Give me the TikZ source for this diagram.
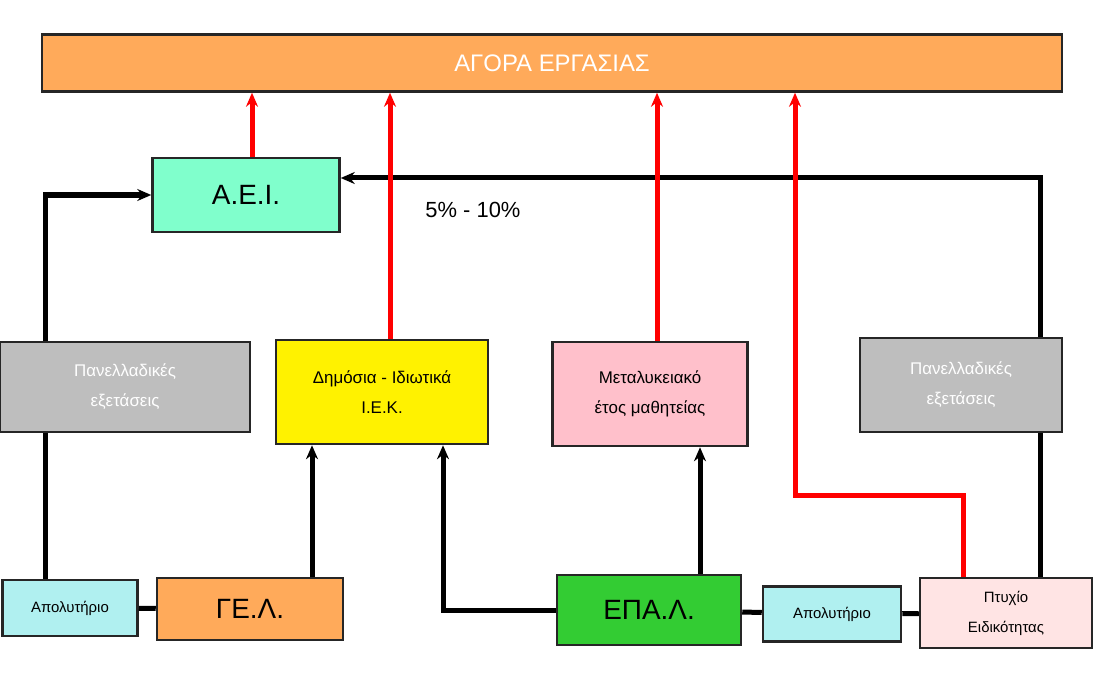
\documentclass[tikz,border=0pt]{standalone}
\usepackage{fontspec}
\setmainfont{Liberation Sans}
\usetikzlibrary{arrows.meta}
\definecolor{marketc}{HTML}{FFAA5A}
\definecolor{aeic}{HTML}{80FFCC}
\definecolor{grayc}{HTML}{BEBEBE}
\definecolor{pinkc}{HTML}{FFC0CB}
\definecolor{apolc}{HTML}{B0F0F0}
\definecolor{epalc}{HTML}{33CC33}
\definecolor{ptyc}{HTML}{FFE4E4}
\begin{document}
\begin{tikzpicture}[x=1bp,y=-1bp,
  box/.style={draw=black!85,line width=2.5bp,inner sep=0pt,align=center,font=\fontsize{17}{30}\selectfont},
  path/.style={line width=5bp,black},
  redpath/.style={line width=5bp,red}]
		\useasboundingbox (0,0) rectangle (1118,682);
		\begin{scope}[every node/.style={box}]
			\node[fill=marketc,text=white,minimum width=1020bp,minimum height=57bp,font=\fontsize{24}{28}\selectfont] (market) at (552,63) {ΑΓΟΡΑ ΕΡΓΑΣΙΑΣ};
			\node[fill=aeic,minimum width=187bp,minimum height=74bp,font=\fontsize{28}{32}\selectfont] (aei) at (246,195) {Α.Ε.Ι.};
			\node[fill=grayc,text=white,minimum width=250bp,minimum height=90bp] (panL) at (125,387) {Πανελλαδικές\\εξετάσεις};
			\node[fill=yellow,minimum width=212bp,minimum height=104bp] (iek) at (382,392) {Δημόσια - Ιδιωτικά\\Ι.Ε.Κ.};
			\node[fill=pinkc,minimum width=195bp,minimum height=104bp] (meta) at (650,394) {Μεταλυκειακό\\έτος μαθητείας};
			\node[fill=grayc,text=white,minimum width=202bp,minimum height=94bp] (panR) at (961,385) {Πανελλαδικές\\εξετάσεις};
			\node[fill=apolc,minimum width=135bp,minimum height=56bp,font=\fontsize{15}{18}\selectfont] (apolL) at (70,608) {Απολυτήριο};
			\node[fill=marketc,minimum width=186bp,minimum height=62bp,font=\fontsize{28}{32}\selectfont] (gel) at (250,609) {ΓΕ.Λ.};
			\node[fill=epalc,minimum width=184bp,minimum height=70bp,font=\fontsize{28}{32}\selectfont] (epal) at (649,610) {ΕΠΑ.Λ.};
			\node[fill=apolc,minimum width=138bp,minimum height=55bp,font=\fontsize{15}{18}\selectfont] (apolR) at (832,614) {Απολυτήριο};
			\node[fill=ptyc,minimum width=172bp,minimum height=70bp,font=\fontsize{15}{30}\selectfont] (pty) at (1006,613) {Πτυχίο\\Ειδικότητας};
		\end{scope}
		\node[font=\fontsize{22}{26}\selectfont] (pct) at (473,210) {5\% - 10\%};

		\begin{scope}[>={Stealth[length=14bp,width=12bp]}]
			% black routes
			\draw[path] (apolL.north -| 45,0) -- (panL.south -| 45,0);
			\draw[path,->] (panL.north -| 45,0) |- (aei.west);
			\draw[path] (apolL) -- (gel);
			\draw[path,->] (gel.north -| 312,0) -- (iek.south -| 312,0);
			\draw[path,->] (epal.west) -| (iek.south -| 443,0);
			\draw[path,->] (epal.north -| 700,0) -- (meta.south -| 700,0);
			\draw[path] (epal) -- (apolR) -- (pty);
			\draw[path] (pty.north -| 1040,0) -- (panR.south -| 1040,0);
			\draw[path,->] (panR.north -| 1040,0) |- (aei.east |- 0,178);
			% red routes
			\draw[redpath,->] (aei.north -| 252,0) -- (market.south -| 252,0);
			\draw[redpath,->] (iek.north -| 390,0) -- (market.south -| 390,0);
			\draw[redpath,->] (meta.north -| 657,0) -- (market.south -| 657,0);
			\draw[redpath,->] (pty.north -| 963,0) |- (795,495) -- (market.south -| 795,0);
		\end{scope}
\end{tikzpicture}
\end{document}
